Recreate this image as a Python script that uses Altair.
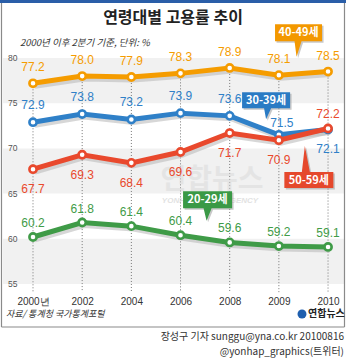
import altair as alt
import pandas as pd

# ---------------- data ----------------
years = ["2000년", "2002", "2004", "2006", "2008", "2009", "2010"]
s40 = [77.2, 78.0, 77.9, 78.3, 78.9, 78.1, 78.5]
s30 = [72.9, 73.8, 73.2, 73.9, 73.6, 71.5, 72.1]
s50 = [67.7, 69.3, 68.4, 69.6, 71.7, 70.9, 72.2]
s20 = [60.2, 61.8, 61.4, 60.4, 59.6, 59.2, 59.1]
names = ["40-49세", "30-39세", "50-59세", "20-29세"]
y_ticks = [55, 60, 65, 70, 75, 80]
band_lo = [55, 65, 75]
band_hi = [60, 70, 80]

# ---------------- style ----------------
colors = {"40-49세": "#F59C00", "30-39세": "#2F80C8", "50-59세": "#E9492D", "20-29세": "#3F9B47"}
box_colors = {"40-49세": "#F39800", "30-39세": "#2A7BC4", "50-59세": "#E5482C", "20-29세": "#3A9946"}
values = {"40-49세": s40, "30-39세": s30, "50-59세": s50, "20-29세": s20}
draw_order = ["40-49세", "20-29세", "30-39세", "50-59세"]
above_dy = {"40-49세": -16, "30-39세": -17, "50-59세": -15, "20-29세": -14}
below_dy = 20
below = {"40-49세": [], "30-39세": [6], "50-59세": [0, 1, 2, 3, 4, 5], "20-29세": []}
special = {("30-39세", 5): (-12, 3)}
KR = "Noto Sans CJK KR"
NUM = "Liberation Sans"

W, H = 338, 226
xs = alt.Scale(domain=[-0.59, 6.284], nice=False, zero=False)
ys = alt.Scale(domain=[55, 80], nice=False, zero=False)

rows = []
for n in names:
    for i, v in enumerate(values[n]):
        rows.append({"series": n, "idx": i, "value": v, "year": years[i]})
df = pd.DataFrame(rows)

layers = []

# background bands
bands = pd.DataFrame({"lo": band_lo, "hi": band_hi})
layers.append(alt.Chart(bands).mark_rect(color="#f1f1f1").encode(
    x=alt.value(-1), x2=alt.value(340),
    y=alt.Y("lo:Q", scale=ys, axis=None), y2="hi:Q"))

# x axis (labels only)
label_expr = "[" + ",".join("'%s'" % y for y in years) + "][datum.value]"
axis_df = pd.DataFrame({"idx": list(range(len(years)))})
layers.append(alt.Chart(axis_df).mark_point(opacity=0).encode(
    x=alt.X("idx:Q", scale=xs, title=None,
            axis=alt.Axis(values=list(range(len(years))), labelExpr=label_expr,
                          domain=False, ticks=False, grid=False, labelPadding=12,
                          labelFontSize=10, labelFont=NUM, labelColor="#333",
                          labelFlush=False)),
    y=alt.value(0)))

# y tick labels
yt = pd.DataFrame({"v": y_ticks, "t": [str(t) for t in y_ticks]})
layers.append(alt.Chart(yt).mark_text(align="left", baseline="middle", font=NUM,
                                      fontSize=8.5, color="#555").encode(
    x=alt.value(4), y=alt.Y("v:Q", scale=ys), text="t:N"))

# dotted vertical guides
guide = pd.DataFrame({"idx": list(range(len(years))),
                      "top": [max(values[n][i] for n in names) for i in range(len(years))],
                      "bot": [54.1] * len(years)})
layers.append(alt.Chart(guide).mark_rule(color="#777", strokeDash=[1, 2], strokeWidth=1).encode(
    x=alt.X("idx:Q", scale=xs), y=alt.Y("top:Q", scale=ys), y2="bot:Q"))

# watermark
layers.append(alt.Chart(axis_df.head(1)).mark_text(text="연합뉴스", font=KR, fontWeight="bold",
                                                   fontSize=28, color="#d9d9d9", opacity=0.5).encode(
    x=alt.value(208), y=alt.value(123)))
layers.append(alt.Chart(axis_df.head(1)).mark_text(text="YONHAP NEWS AGENCY", font=NUM, fontWeight="bold",
                                                   fontStyle="italic", fontSize=8, color="#cfcfcf",
                                                   opacity=0.6).encode(
    x=alt.value(206), y=alt.value(143)))

# shadows
sh = df.copy()
sh["sx"] = sh["idx"] + 0.04
sh["sy"] = sh["value"] - 0.33
layers.append(alt.Chart(sh).mark_line(strokeWidth=5, color="#bdbdbd", opacity=0.6).encode(
    x=alt.X("sx:Q", scale=xs), y=alt.Y("sy:Q", scale=ys), detail="series:N"))

# lines and points
for n in draw_order:
    d = df[df.series == n]
    layers.append(alt.Chart(d).mark_line(strokeWidth=5, color=colors[n]).encode(
        x=alt.X("idx:Q", scale=xs), y=alt.Y("value:Q", scale=ys)))
    layers.append(alt.Chart(d).mark_point(shape="circle", size=52, filled=False, fill="white",
                                          fillOpacity=1, opacity=1, stroke=colors[n],
                                          strokeWidth=2.6).encode(
        x=alt.X("idx:Q", scale=xs), y=alt.Y("value:Q", scale=ys)))

# value labels
groups = {}
for n in names:
    for i, v in enumerate(values[n]):
        if (n, i) in special:
            dy, dx = special[(n, i)]
        elif i in below[n]:
            dy, dx = below_dy, 0
        else:
            dy, dx = above_dy[n], 0
        groups.setdefault((n, dy, dx), []).append({"idx": i, "value": v, "t": "%.1f" % v})
for (n, dy, dx), rs in groups.items():
    layers.append(alt.Chart(pd.DataFrame(rs)).mark_text(font=NUM, fontSize=12, color=colors[n],
                                                        dy=dy, dx=dx, baseline="middle").encode(
        x=alt.X("idx:Q", scale=xs), y=alt.Y("value:Q", scale=ys), text="t:N"))

# callouts
callout_x = {"40-49세": 5.40, "30-39세": 4.74, "50-59세": 5.61, "20-29세": 3.55}
callout_y = {"40-49세": 82.78, "30-39세": 75.33, "50-59세": 66.5, "20-29세": 64.33}
callout_geom = {  # w, h, base_l, base_r, tip_x, tip_y, side
    "40-49세": (47, 17, -4, 3, -2, 24, "bottom"),
    "30-39세": (48, 16, -2, 5, 0, 19, "bottom"),
    "50-59세": (49, 16, -7, 1, -4, -34, "top"),
    "20-29세": (49, 17, -4, 4, -1, 21, "bottom"),
}


def callout_path(w, h, bl, br, tx, ty, side, ox=0.0, oy=0.0):
    hw, hh = w / 2.0, h / 2.0
    if side == "bottom":
        pts = [(-hw, -hh), (hw, -hh), (hw, hh), (br, hh), (tx, ty), (bl, hh), (-hw, hh)]
    else:
        pts = [(-hw, -hh), (bl, -hh), (tx, ty), (br, -hh), (hw, -hh), (hw, hh), (-hw, hh)]
    return "M " + " L ".join("%g %g" % (x + ox, y + oy) for x, y in pts) + " Z"


for n in names:
    g = callout_geom[n]
    cd = pd.DataFrame({"x": [callout_x[n]], "y": [callout_y[n]], "t": [n]})
    enc = dict(x=alt.X("x:Q", scale=xs), y=alt.Y("y:Q", scale=ys))
    layers.append(alt.Chart(cd).mark_point(shape=callout_path(*g, ox=1.5, oy=1.5), size=4, filled=True,
                                           fill="#9a9a9a", opacity=0.55, strokeWidth=0).encode(**enc))
    layers.append(alt.Chart(cd).mark_point(shape=callout_path(*g), size=4, filled=True,
                                           fill=box_colors[n], opacity=1, strokeWidth=0).encode(**enc))
    layers.append(alt.Chart(cd).mark_text(font=KR, fontWeight="bold", fontSize=11, color="white",
                                          baseline="middle", dy=0.5).encode(text="t:N", **enc))

# frame and decorations
one = axis_df.head(1)
layers.append(alt.Chart(one).mark_rect(color="#2a5ea8").encode(
    x=alt.value(-4), x2=alt.value(342), y=alt.value(-58), y2=alt.value(-55)))
layers.append(alt.Chart(one).mark_rule(color="#8a8a8a", strokeWidth=1.2).encode(
    x=alt.value(-2.5), y=alt.value(-55), y2=alt.value(269)))
layers.append(alt.Chart(one).mark_rule(color="#8a8a8a", strokeWidth=1.2).encode(
    x=alt.value(340.5), y=alt.value(-55), y2=alt.value(269)))
layers.append(alt.Chart(one).mark_rule(color="#8a8a8a", strokeWidth=1.2).encode(
    x=alt.value(-2.5), x2=alt.value(340.5), y=alt.value(269)))

layers.append(alt.Chart(one).mark_text(text="연령대별 고용률 추이", font=KR, fontWeight="bold",
                                       fontSize=16, color="#222", baseline="middle").encode(
    x=alt.value(169), y=alt.value(-40)))
layers.append(alt.Chart(one).mark_text(text="2000년 이후 2분기 기준, 단위: %", font=KR, fontStyle="italic",
                                       fontSize=9.5, color="#333", align="left", baseline="middle").encode(
    x=alt.value(16), y=alt.value(-15)))
layers.append(alt.Chart(one).mark_text(text="자료/ 통계청 국가통계포털", font=KR, fontStyle="italic",
                                       fontSize=9, color="#333", align="left", baseline="middle").encode(
    x=alt.value(2), y=alt.value(256)))
layers.append(alt.Chart(one).mark_point(shape="circle", size=80, filled=True, fill="#1f5fae",
                                        opacity=1, strokeWidth=0).encode(
    x=alt.value(298), y=alt.value(256)))
layers.append(alt.Chart(one).mark_text(text="연합뉴스", font=KR, fontWeight="bold",
                                       fontSize=10, color="#222", align="left", baseline="middle").encode(
    x=alt.value(304), y=alt.value(256)))
layers.append(alt.Chart(one).mark_text(text="장성구 기자  sunggu@yna.co.kr 20100816", font=KR,
                                       fontSize=10, color="#333", align="right", baseline="middle").encode(
    x=alt.value(340), y=alt.value(279)))
layers.append(alt.Chart(one).mark_text(text="@yonhap_graphics(트위터)", font=KR,
                                       fontSize=10, color="#333", align="right", baseline="middle").encode(
    x=alt.value(340), y=alt.value(294)))

chart = alt.layer(*layers).properties(
    width=W, height=H, autosize="none",
    padding={"left": 4, "top": 58, "right": 4, "bottom": 76},
    background="white",
).configure_view(stroke=None)

chart.save("out.html", embed_options={"renderer": "svg", "actions": False})
